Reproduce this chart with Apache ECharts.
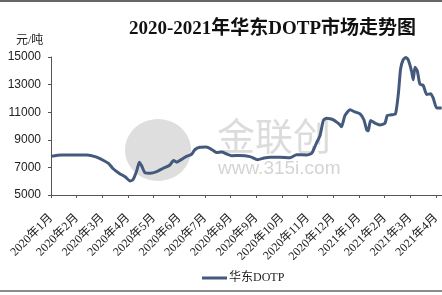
<!DOCTYPE html>
<html>
<head>
<meta charset="utf-8">
<script src="https://cdn.jsdelivr.net/npm/echarts@6/dist/echarts.min.js"></script>
<style>
html,body{margin:0;padding:0;background:#fff;}
#c{width:442px;height:295px;}
</style>
</head>
<body>
<div id="c"></div>
<script>
// Month labels (ticks) on the x axis
const monthLabels = ['2020年1月','2020年2月','2020年3月','2020年4月','2020年5月','2020年6月','2020年7月','2020年8月','2020年9月','2020年10月','2020年11月','2020年12月','2021年1月','2021年2月','2021年3月','2021年4月'];
// Position in months since start of Jan 2020
const monthIndex = [0,0.4,1.4,1.75,2.05,2.25,2.4,2.65,2.9,3.08,3.2,3.34,3.44,3.53,3.66,3.86,4.12,4.37,4.62,4.78,4.9,5.09,5.28,5.48,5.6,5.8,6.05,6.26,6.45,6.65,6.84,7.04,7.36,7.75,8.05,8.3,8.53,8.92,9.31,9.57,9.96,10.16,10.28,10.35,10.48,10.61,10.74,10.87,11.0,11.13,11.26,11.32,11.45,11.65,11.84,12.04,12.19,12.3,12.36,12.45,12.62,12.82,13.01,13.1,13.27,13.42,13.53,13.62,13.72,13.83,13.92,14.05,14.11,14.18,14.27,14.37,14.5,14.64,14.79,14.89,15.03,15.22];
// 华东DOTP price, 元/吨
const prices = [7800,7900,7900,7760,7500,7280,6940,6580,6300,6020,6120,6750,7380,7120,6620,6580,6700,6940,7150,7500,7380,7580,7800,7950,8280,8460,8480,8300,8080,8120,7980,7850,7860,7780,7560,7680,7740,7740,7700,7920,7900,8030,8500,8800,9300,10400,10560,10520,10450,10280,10080,9940,10750,11170,11020,10880,10450,9720,9650,10400,10210,10080,10200,10760,10810,10880,12300,14150,14800,14970,14780,13950,13350,14250,14000,13040,12940,12280,12340,12020,11300,11300];
const yTicks = [5000,7000,9000,11000,13000,15000];
const seriesName = '华东DOTP';
const titleText = '2020-2021年华东DOTP市场走势图';
const unitText = '元/吨';

const chart = echarts.init(document.getElementById('c'), null, {renderer:'canvas'});
const lineColor = '#445a7d';
const serifCJK = '"Liberation Serif","Noto Sans CJK SC",serif';
const data = monthIndex.map((m,i)=>[m, prices[i]]);

chart.setOption({
  animation:false,
  backgroundColor:'#fff',
  title:[
    {text:titleText,left:124,top:15,textStyle:{fontSize:19,fontWeight:'bold',color:'#111',fontFamily:serifCJK}},
    {text:unitText,left:11,top:30,textStyle:{fontSize:12,fontWeight:'normal',color:'#222',fontFamily:serifCJK}}
  ],
  graphic:[
    {type:'line',shape:{x1:0,y1:1,x2:442,y2:1},style:{stroke:'#666',lineWidth:2},silent:true},
    {type:'line',shape:{x1:0,y1:291,x2:442,y2:291},style:{stroke:'#666',lineWidth:1.5},silent:true},
    {type:'ellipse',shape:{cx:158,cy:150,rx:33,ry:31},style:{fill:'#dedede'},z:-10,silent:true},
    {type:'text',left:217,top:117,style:{text:'金联创',fontSize:38,fill:'#dcdcdc',fontFamily:'"Noto Sans CJK SC"'},z:-10,silent:true},
    {type:'text',left:218,top:159,style:{text:'www.315i.com',fontSize:19,fill:'#d4d4d4',fontFamily:'"Liberation Sans",Arial'},z:-10,silent:true}
  ],
  legend:{
    data:[{name:seriesName,icon:'rect'}],
    left:197,top:267,itemWidth:25,itemHeight:3,itemGap:10,
    textStyle:{fontSize:12,color:'#222',fontFamily:serifCJK,padding:[0,0,0,-3]}
  },
  grid:{left:51,top:57,height:138,width:410.7,containLabel:false,outerBoundsMode:'none'},
  xAxis:{
    type:'value',min:0,max:16,interval:1,
    axisLine:{show:true,lineStyle:{color:'#555',width:1}},
    axisTick:{show:true,inside:false,length:3,lineStyle:{color:'#555'}},
    splitLine:{show:false},
    axisLabel:{
      rotate:45,margin:21,fontSize:12,color:'#222',fontFamily:serifCJK,
      showMaxLabel:false,
      formatter:function(v){const i=Math.round(v);return (Math.abs(v-i)<1e-6 && i<monthLabels.length)?monthLabels[i]:'';}
    }
  },
  yAxis:{
    type:'value',min:5000,max:15000,interval:2000,
    axisLine:{show:true,lineStyle:{color:'#555',width:1}},
    axisTick:{show:true,length:3,lineStyle:{color:'#555'}},
    splitLine:{show:false},
    axisLabel:{margin:10,fontSize:12,color:'#222',fontFamily:'"Liberation Sans",Arial,sans-serif',
      formatter:function(v){return yTicks.indexOf(v)>=0?String(v):'';}}
  },
  series:[{
    name:seriesName,type:'line',data:data,symbol:'none',smooth:0.2,
    lineStyle:{color:lineColor,width:3},itemStyle:{color:lineColor},
    clip:true
  }]
});
</script>
</body>
</html>
